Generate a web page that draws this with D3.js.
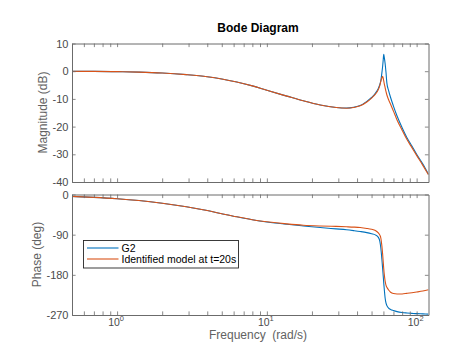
<!DOCTYPE html>
<html>
<head>
<meta charset="utf-8">
<script src="https://cdn.jsdelivr.net/npm/d3@7"></script>
<style>
  html, body { margin: 0; padding: 0; background: #ffffff; }
  svg { display: block; font-family: "Liberation Sans", Arial, sans-serif; }
</style>
</head>
<body>
<svg id="chart" width="474" height="355"></svg>
<script>
// ---------- data ----------
const freq = [0.5, 0.7, 1, 1.4, 2, 2.9, 4, 5, 6.3, 8, 10, 13.6, 17.5, 22.7, 29, 34, 38, 42, 46.5, 50,
  53, 55.5, 56.8, 57.7, 58.6, 59.3, 59.8, 60.3, 60.8, 61.6, 62.4, 63.3, 65, 67, 70, 74, 80, 86, 93, 100, 110, 120];
const g2Mag = [-0.04, -0.08, -0.17, -0.33, -0.65, -1.25, -2.0, -2.8, -3.9, -5.3, -6.9, -9.0, -10.7, -12.2, -13.1, -13.3, -13.0, -12.4, -10.9, -9.5,
  -8.0, -6.2, -4.8, -3.3, -0.6, 1.8, 4.0, 6.1, 5.0, 2.8, -0.3, -4.3, -7.0, -9.5, -12.6, -16.2, -20.4, -23.9, -27.0, -30.0, -33.5, -37.2];
const idMag = [-0.04, -0.08, -0.17, -0.33, -0.65, -1.25, -2.0, -2.8, -3.9, -5.3, -6.9, -9.0, -10.7, -12.2, -13.1, -13.35, -13.1, -12.5, -11.1, -9.7,
  -8.3, -6.6, -5.1, -3.6, -2.4, -1.8, -2.5, -3.5, -4.6, -5.9, -7.3, -8.6, -10.3, -11.9, -14.4, -17.6, -21.3, -24.6, -27.6, -30.4, -34.0, -37.4];
const g2Phase = [-4.5, -6.5, -9.5, -13.5, -19.5, -27.5, -36, -43, -50, -56.5, -61.5, -66.8, -70.5, -74, -77, -79, -81, -83, -85.5, -88,
  -90.5, -96, -105, -121, -145, -166, -182, -198, -212, -232, -243, -249, -254.5, -257.5, -260, -262.5, -264.5, -265.5, -266.3, -267, -267.5, -268];
const idPhase = [-4.5, -6.5, -9.5, -13.5, -19.5, -27.5, -36, -43, -50, -56.5, -61, -65.8, -68.8, -70.5, -71.5, -72.3, -73, -74, -76, -78,
  -80.5, -86, -91, -98, -115, -134, -150, -166, -179, -194, -203, -208, -214, -219, -222, -223, -222.8, -221.5, -220, -218.5, -216.3, -213.5];

const seriesNames = ["G2", "Identified model at t=20s"];
const magTicks = [10, 0, -10, -20, -30, -40];
const phaseTicks = [0, -90, -180, -270];
const decadeTicks = [1, 10, 100];
const freqDomain = [0.5, 120];
const magDomain = [-40, 10];
const phaseDomain = [-270, 0];
const titleText = "Bode Diagram";
const xLabelText = "Frequency  (rad/s)";
const magLabelText = "Magnitude (dB)";
const phaseLabelText = "Phase (deg)";

// ---------- styles / layout ----------
const colors = ["#0072BD", "#D95319"];
const axisColor = "#6b6b6b";
const tickTextColor = "#4a4a4a";
const labelColor = "#626262";
const L = 72, R = 428.5;
const magTop = 43.5, magBottom = 182;
const phTop = 194.5, phBottom = 315;
const tickLen = 3.6;

const svg = d3.select("#chart");
svg.append("rect").attr("width", 474).attr("height", 355).attr("fill", "#ffffff");

const x = d3.scaleLog().domain(freqDomain).range([L, R]);
const yMag = d3.scaleLinear().domain(magDomain).range([magBottom, magTop]);
const yPh = d3.scaleLinear().domain(phaseDomain).range([phBottom, phTop]);
const logTicks = x.ticks();

const defs = svg.append("defs");
function panel(id, y, top, bottom, yTicks, yVals) {
  defs.append("clipPath").attr("id", id).append("rect")
    .attr("x", L).attr("y", top).attr("width", R - L).attr("height", bottom - top);
  const g = svg.append("g");
  g.append("rect").attr("x", L).attr("y", top).attr("width", R - L).attr("height", bottom - top)
    .attr("fill", "#ffffff");

  // lines
  const lineGen = d3.line()
    .x(d => x(d[0]))
    .y(d => y(d[1]))
    .curve(d3.curveMonotoneX);
  yVals.forEach((vals, i) => {
    const pts = freq.map((f, k) => [f, vals[k]]);
    g.append("path")
      .attr("d", lineGen(pts))
      .attr("fill", "none")
      .attr("stroke", colors[i])
      .attr("stroke-width", 1.1)
      .attr("stroke-linejoin", "round")
      .attr("clip-path", `url(#${id})`);
  });

  // axes
  const styleAxis = sel => {
    sel.selectAll("path.domain").attr("stroke", axisColor).attr("stroke-width", 1);
    sel.selectAll(".tick line").attr("stroke", axisColor).attr("stroke-width", 0.8);
  };
  g.append("g").attr("transform", `translate(0,${bottom})`)
    .call(d3.axisBottom(x).tickValues(logTicks).tickSizeInner(-tickLen).tickSizeOuter(0).tickFormat(""))
    .call(styleAxis);
  g.append("g").attr("transform", `translate(0,${top})`)
    .call(d3.axisTop(x).tickValues(logTicks).tickSizeInner(-tickLen).tickSizeOuter(0).tickFormat(""))
    .call(styleAxis);
  g.append("g").attr("transform", `translate(${R},0)`)
    .call(d3.axisRight(y).tickValues(yTicks).tickSizeInner(-tickLen).tickSizeOuter(0).tickFormat(""))
    .call(styleAxis);
  const left = g.append("g").attr("transform", `translate(${L},0)`)
    .call(d3.axisLeft(y).tickValues(yTicks).tickSizeInner(-tickLen).tickSizeOuter(0).tickPadding(3.5).tickFormat(d3.format("d")))
    .call(styleAxis);
  left.selectAll(".tick text")
    .attr("fill", tickTextColor)
    .attr("font-size", "11px")
    .attr("font-family", "Liberation Sans, Arial, sans-serif")
    .text(d => (d < 0 ? "-" + Math.abs(d) : String(d)));
  left.attr("font-family", null).attr("font-size", null);
  return g;
}

panel("clipMag", yMag, magTop, magBottom, magTicks, [g2Mag, idMag]);
panel("clipPh", yPh, phTop, phBottom, phaseTicks, [g2Phase, idPhase]);

// x tick labels with superscript exponents
const xl = svg.append("g");
decadeTicks.forEach(v => {
  const t = xl.append("text")
    .attr("x", x(v) - 1)
    .attr("y", 325.5)
    .attr("text-anchor", "middle")
    .attr("fill", tickTextColor)
    .attr("font-size", "10.5px");
  t.append("tspan").text("10");
  t.append("tspan").attr("dy", -4.5).attr("font-size", "7.5px").text(String(Math.round(Math.log10(v))));
});

// title and labels
svg.append("text").attr("x", 258).attr("y", 32).attr("text-anchor", "middle")
  .attr("font-size", "12px").attr("font-weight", "bold").attr("fill", "#000000").text(titleText);
svg.append("text").attr("x", 258).attr("y", 339).attr("text-anchor", "middle")
  .attr("font-size", "12px").attr("fill", labelColor).attr("xml:space", "preserve")
  .style("white-space", "pre").text(xLabelText);
svg.append("text").attr("transform", "translate(46.5,112.5) rotate(-90)").attr("text-anchor", "middle")
  .attr("font-size", "12px").attr("fill", labelColor).text(magLabelText);
svg.append("text").attr("transform", "translate(41,254.5) rotate(-90)").attr("text-anchor", "middle")
  .attr("font-size", "12px").attr("fill", labelColor).text(phaseLabelText);

// legend
const lg = svg.append("g");
lg.append("rect").attr("x", 83.5).attr("y", 240.5).attr("width", 155).attr("height", 27.5)
  .attr("fill", "#ffffff").attr("stroke", "#262626").attr("stroke-width", 0.9);
seriesNames.forEach((name, i) => {
  const cy = 248 + i * 11;
  lg.append("line").attr("x1", 87).attr("x2", 118.5).attr("y1", cy).attr("y2", cy)
    .attr("stroke", colors[i]).attr("stroke-width", 1.1);
  lg.append("text").attr("x", 121.5).attr("y", cy + 3.7)
    .attr("font-size", "10.5px").attr("fill", "#000000").text(name);
});
</script>
</body>
</html>
